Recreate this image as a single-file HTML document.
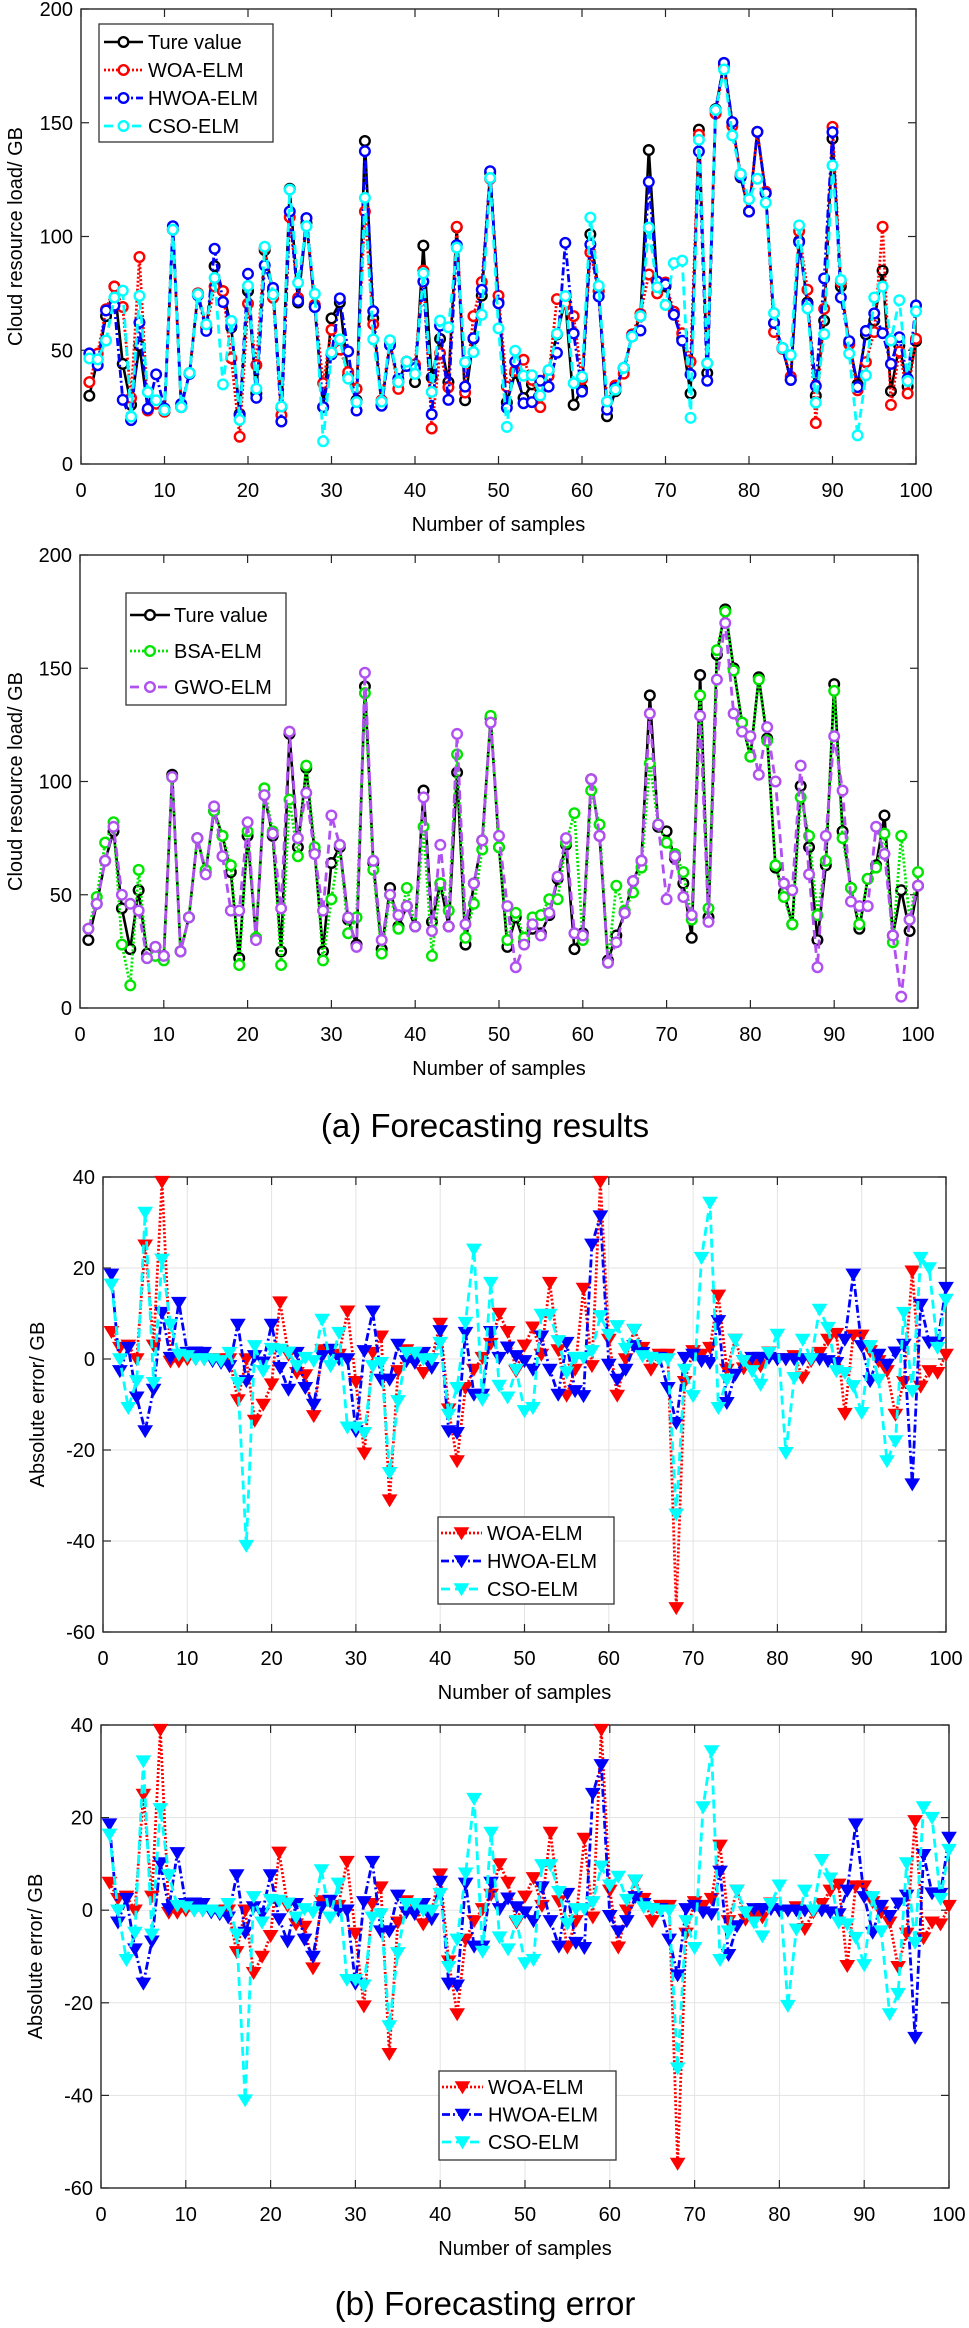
<!DOCTYPE html>
<html><head><meta charset="utf-8">
<style>
html,body{margin:0;padding:0;background:#fff;}
svg{display:block;font-family:"Liberation Sans",Arial,sans-serif;}
</style></head>
<body>
<svg id="fig" width="969" height="2328" viewBox="0 0 969 2328" xmlns="http://www.w3.org/2000/svg"></svg>
<script>
// ---------- data ----------
const sampleIdx = Array.from({length:100},(_,k)=>k+1);
const trueValues = [30,46,65,78,44,26,52,24,27,23,103,25,40,75,60,87,76,60,22,76,31,94,76,25,121,71,106,69,25,64,71,39,28,142,64,26,53,36,45,36,96,38,55,36,104,28,55,74,128,71,27,40,29,35,33,41,57,72,26,33,101,76,21,32,42,56,65,138,80,78,66,55,31,147,40,156,176,150,126,111,146,119,62,51,37,98,71,30,63,143,78,53,35,57,63,85,32,52,34,54];
const woaError = [6,2.5,3,0,25,3,39,-0.5,-0.5,0,0,0,0,0,0,-9,0,-13.5,-10,-5.5,12.5,1,-3,-3.5,-12.5,2,2,1,10.5,-5,-20.7,1.4,5,-31,-2.6,2,1,-3,0,7.8,-11,-22.4,-6.3,-2.3,0.3,3.4,10,6,-2.6,3,7,1,16.8,2,-8,-2.3,15.5,-1.5,39,4.3,-8,0,6.4,2.5,-2.3,1,1,-54.7,-5,1.8,1,2.5,14,-2.3,4.3,-2,-1.2,-1.5,1.5,0,0,0.7,-4,-0.4,1.4,4.3,5.6,-12,5.2,5.2,1.8,-0.4,-2.6,-12.2,-5,19.3,-6,-2.6,-3,1];
const hwoaError = [18.6,-2.6,2.5,-8.4,-15.8,-6.7,10.2,0.3,12.4,1.4,1.5,1.4,-0.4,-0.8,-1.5,7.6,-4.8,0.7,-0.7,7.6,-1.9,-6.7,1.4,-6.3,-10,0.7,2.1,0,0,-15.8,1.8,10.5,-4.5,-4.5,3.2,-0.4,-0.8,1.4,-1.9,6.2,-15.8,-16.2,5.8,-7.8,-7.8,6,0.3,2.6,0.7,-0.4,-2.3,5,-2.3,-7.8,3.6,-7,-8.1,25.2,31.4,-1.2,-4.5,-2.3,2.9,1.4,0.3,0.3,-6.3,-14,0.3,1,-0.4,-0.8,8.4,-9.6,-3.4,-0.4,0.3,0.3,0.3,0,0,0,0,0,0,-0.4,-0.8,4.3,18.6,2.9,-4.8,1,-1.2,1.5,3.2,-27.5,12,3.7,3.6,15.7];
const csoError = [16.4,0,-10.7,-4.8,32.2,-5.2,21.9,7.6,1,0.7,0,0,0,-0.4,1.4,-5.2,-41,2.9,-2.6,2.3,2.1,1.5,-1.5,0.3,-0.4,8.7,-1.5,5.8,-15,-15,-16.2,-1.5,-0.8,-25,-9.2,1.4,1.4,0,0,3.6,-12.2,-6.3,8,24.1,-8.9,16.8,-5.8,-8.4,-2.3,-11.4,-10.7,9.8,9.8,4,-2.9,0.3,0.3,1.8,9.5,5.4,7.3,2.3,6.5,0.7,0.3,0,0,-34.1,-2.3,-8.1,22.3,34.4,-10.7,-4.5,4.3,-0.4,-2.6,-5.6,1.4,5.4,-20.6,-4.1,4.3,0,10.9,6.9,-2.6,-3,-5.9,-11.8,2.9,-4.5,-22.4,-18,10.2,-7,22.3,20,2.5,13.1];
const bsaValues = [35,49,73,82,28,10,61,22,23,21,102,25,40,75,61,87,76,63,19,78,31,97,78,19,92,67,107,71,21,48,72,33,40,139,61,24,50,35,53,36,80,23,55,43,112,31,46,70,129,71,30,42,31,40,41,48,48,73,86,30,96,81,20,54,43,51,62,108,81,73,68,60,39,138,44,158,175,149,126,111,145,118,63,49,37,93,76,41,65,140,75,53,37,57,62,77,29,76,39,60];
const gwoValues = [35,46,65,80,50,46,43,22,27,23,102,25,40,75,59,89,67,43,43,82,30,94,77,44,122,75,95,68,43,85,72,40,27,148,65,30,50,41,45,36,93,34,72,36,121,37,55,74,126,76,45,18,28,37,32,42,58,75,33,32,101,76,20,29,42,56,65,130,81,48,67,49,41,129,38,145,170,130,122,120,103,124,100,55,52,107,59,18,76,120,96,47,45,45,80,68,32,5,39,54];
const xTicks = [0,10,20,30,40,50,60,70,80,90,100];
const yTicksLoad = [0,50,100,150,200];
const yTicksErr = [-60,-40,-20,0,20,40];

// ---------- helpers ----------
const NS="http://www.w3.org/2000/svg";
const svg=document.getElementById('fig');
function mk(tag,attrs,parent){const e=document.createElementNS(NS,tag);for(const k in attrs)e.setAttribute(k,attrs[k]);(parent||svg).appendChild(e);return e;}
function txt(s,attrs,parent){const e=mk('text',attrs,parent);e.textContent=s;return e;}

function makeAxes(P){
  P.sx=v=>P.L+(v-P.x0)/(P.x1-P.x0)*(P.R-P.L);
  P.sy=v=>P.B-(v-P.y0)/(P.y1-P.y0)*(P.B-P.T);
  const g=mk('g',{});
  
  
  P.g=g;
  if(P.grid){
    xTicks.forEach(t=>{const l=mk('line',{x1:P.sx(t),x2:P.sx(t),y1:P.T,y2:P.B,stroke:'#e3e3e3','stroke-width':1},g);});
    P.yTicks.forEach(t=>{const l=mk('line',{x1:P.L,x2:P.R,y1:P.sy(t),y2:P.sy(t),stroke:'#e3e3e3','stroke-width':1},g);});
  }
  const box=mk('rect',{x:P.L,y:P.T,width:P.R-P.L,height:P.B-P.T,fill:'none',stroke:'#262626','stroke-width':1.4},g);
  
  xTicks.forEach(t=>{
    const x=P.sx(t);
    mk('line',{x1:x,x2:x,y1:P.B,y2:P.B-8,stroke:'#262626','stroke-width':1.2},g);
    mk('line',{x1:x,x2:x,y1:P.T,y2:P.T+8,stroke:'#262626','stroke-width':1.2},g);
    const tl=txt(String(t),{x:x,y:P.B+33,'text-anchor':'middle','font-size':20,fill:'#000'},g);
    
  });
  P.yTicks.forEach(t=>{
    const y=P.sy(t);
    mk('line',{x1:P.L,x2:P.L+8,y1:y,y2:y,stroke:'#262626','stroke-width':1.2},g);
    mk('line',{x1:P.R,x2:P.R-8,y1:y,y2:y,stroke:'#262626','stroke-width':1.2},g);
    const tl=txt(String(t),{x:P.L-8,y:y+7,'text-anchor':'end','font-size':20,fill:'#000'},g);
    
  });
  const xt=txt('Number of samples',{x:(P.L+P.R)/2,y:P.B+67,'text-anchor':'middle','font-size':20,fill:'#000'},g);
  
  const yc=(P.T+P.B)/2;
  const yt=txt(P.ylabel,{x:P.ylx,y:yc,'text-anchor':'middle','font-size':20,fill:'#000',transform:`rotate(-90 ${P.ylx} ${yc})`},g);
  
}

function marker(g,type,x,y,color){
  if(type==='o') return mk('circle',{cx:x,cy:y,r:4.8,fill:'#fff',stroke:color,'stroke-width':2.4},g);
  const s=6.8;
  return mk('path',{d:`M${x-s} ${y-s*0.75}L${x+s} ${y-s*0.75}L${x} ${y+s*0.9}Z`,fill:color,stroke:color,'stroke-width':1.2},g);
}

function series(P,vals,st,name){
  const g=mk('g',{},P.g);
  
  
  const pts=vals.map((v,k)=>[P.sx(sampleIdx[k]),P.sy(v)]);
  mk('polyline',{points:pts.map(p=>p.join(',')).join(' '),fill:'none',stroke:st.color,'stroke-width':st.w,'stroke-dasharray':st.dash||'none','stroke-linejoin':'round'},g);
  pts.forEach(p=>{
    const m=marker(g,st.m,p[0],p[1],st.color);
    
    
  });
}

function legend(P,L,entries,name){
  const g=mk('g',{},P.g);
  
  
  mk('rect',{x:L.x,y:L.y,width:L.w,height:L.h,fill:'#fff',stroke:'#333','stroke-width':1.3},g);
  entries.forEach((e,k)=>{
    const y=L.r0+k*L.dy;
    mk('line',{x1:L.lx0,x2:L.lx1,y1:y,y2:y,stroke:e.st.color,'stroke-width':e.st.w,'stroke-dasharray':e.st.dash||'none'},g);
    marker(g,e.st.m,(L.lx0+L.lx1)/2,y,e.st.color);
    const t=txt(e.label,{x:L.tx,y:y+7,'font-size':L.fs,fill:'#000'},g);
    
    
  });
}

const ST={
  tru:{color:'#000',w:2.6,m:'o'},
  woa:{color:'#ff0000',w:2.8,dash:'2,2',m:'o'},
  hwoa:{color:'#0000ff',w:2.8,dash:'8,3,2,3',m:'o'},
  cso:{color:'#00ffff',w:2.8,dash:'9,5',m:'o'},
  bsa:{color:'#00e600',w:2.8,dash:'2,2',m:'o'},
  gwo:{color:'#b050f0',w:2.8,dash:'9,5',m:'o'}
};
const T=s=>Object.assign({},s,{m:'v'});
const add=(a,b)=>a.map((v,k)=>v+b[k]);

// ---------- panel 1 ----------
const P1={name:'chart-forecast-woa-hwoa-cso',L:81,R:916,T:9,B:464,x0:0,x1:100,y0:0,y1:200,yTicks:yTicksLoad,ylabel:'Cloud resource load/ GB',ylx:22};
makeAxes(P1);
series(P1,trueValues,ST.tru,'series-true-value');
series(P1,add(trueValues,woaError),ST.woa,'series-woa-elm');
series(P1,add(trueValues,hwoaError),ST.hwoa,'series-hwoa-elm');
series(P1,add(trueValues,csoError),ST.cso,'series-cso-elm');
legend(P1,{x:99,y:24,w:174,h:118,r0:42,dy:28,lx0:104,lx1:143,tx:148,fs:20},
  [{label:'Ture value',st:ST.tru},{label:'WOA-ELM',st:ST.woa},{label:'HWOA-ELM',st:ST.hwoa},{label:'CSO-ELM',st:ST.cso}],'legend-forecast-1');

// ---------- panel 2 ----------
const P2={name:'chart-forecast-bsa-gwo',L:80,R:918,T:555,B:1008,x0:0,x1:100,y0:0,y1:200,yTicks:yTicksLoad,ylabel:'Cloud resource load/ GB',ylx:22};
makeAxes(P2);
series(P2,trueValues,ST.tru,'series-true-value');
series(P2,bsaValues,ST.bsa,'series-bsa-elm');
series(P2,gwoValues,ST.gwo,'series-gwo-elm');
legend(P2,{x:126,y:593,w:160,h:112,r0:615,dy:36,lx0:130,lx1:170,tx:174,fs:20},
  [{label:'Ture value',st:ST.tru},{label:'BSA-ELM',st:ST.bsa},{label:'GWO-ELM',st:ST.gwo}],'legend-forecast-2');

const ta=txt('(a) Forecasting results',{x:485,y:1137,'text-anchor':'middle','font-size':33,fill:'#000'});


// ---------- panel 3 & 4 ----------
function errPanel(P,leg,name){
  makeAxes(P);
  series(P,woaError,T(ST.woa),'series-woa-elm-error');
  series(P,hwoaError,T(ST.hwoa),'series-hwoa-elm-error');
  series(P,csoError,T(ST.cso),'series-cso-elm-error');
  legend(P,leg,[{label:'WOA-ELM',st:T(ST.woa)},{label:'HWOA-ELM',st:T(ST.hwoa)},{label:'CSO-ELM',st:T(ST.cso)}],name);
}
errPanel({name:'chart-error-1',L:103,R:946,T:1177,B:1632,x0:0,x1:100,y0:-60,y1:40,yTicks:yTicksErr,grid:true,ylabel:'Absolute error/ GB',ylx:44},
  {x:438,y:1517,w:176,h:87,r0:1533,dy:28,lx0:441,lx1:482,tx:487,fs:20},'legend-error-1');
errPanel({name:'chart-error-2',L:101,R:949,T:1725,B:2188,x0:0,x1:100,y0:-60,y1:40,yTicks:yTicksErr,grid:true,ylabel:'Absolute error/ GB',ylx:42},
  {x:439,y:2071,w:177,h:89,r0:2087,dy:27.5,lx0:442,lx1:483,tx:488,fs:20},'legend-error-2');

const tb=txt('(b) Forecasting error',{x:485,y:2315,'text-anchor':'middle','font-size':33,fill:'#000'});

</script>
</body></html>
